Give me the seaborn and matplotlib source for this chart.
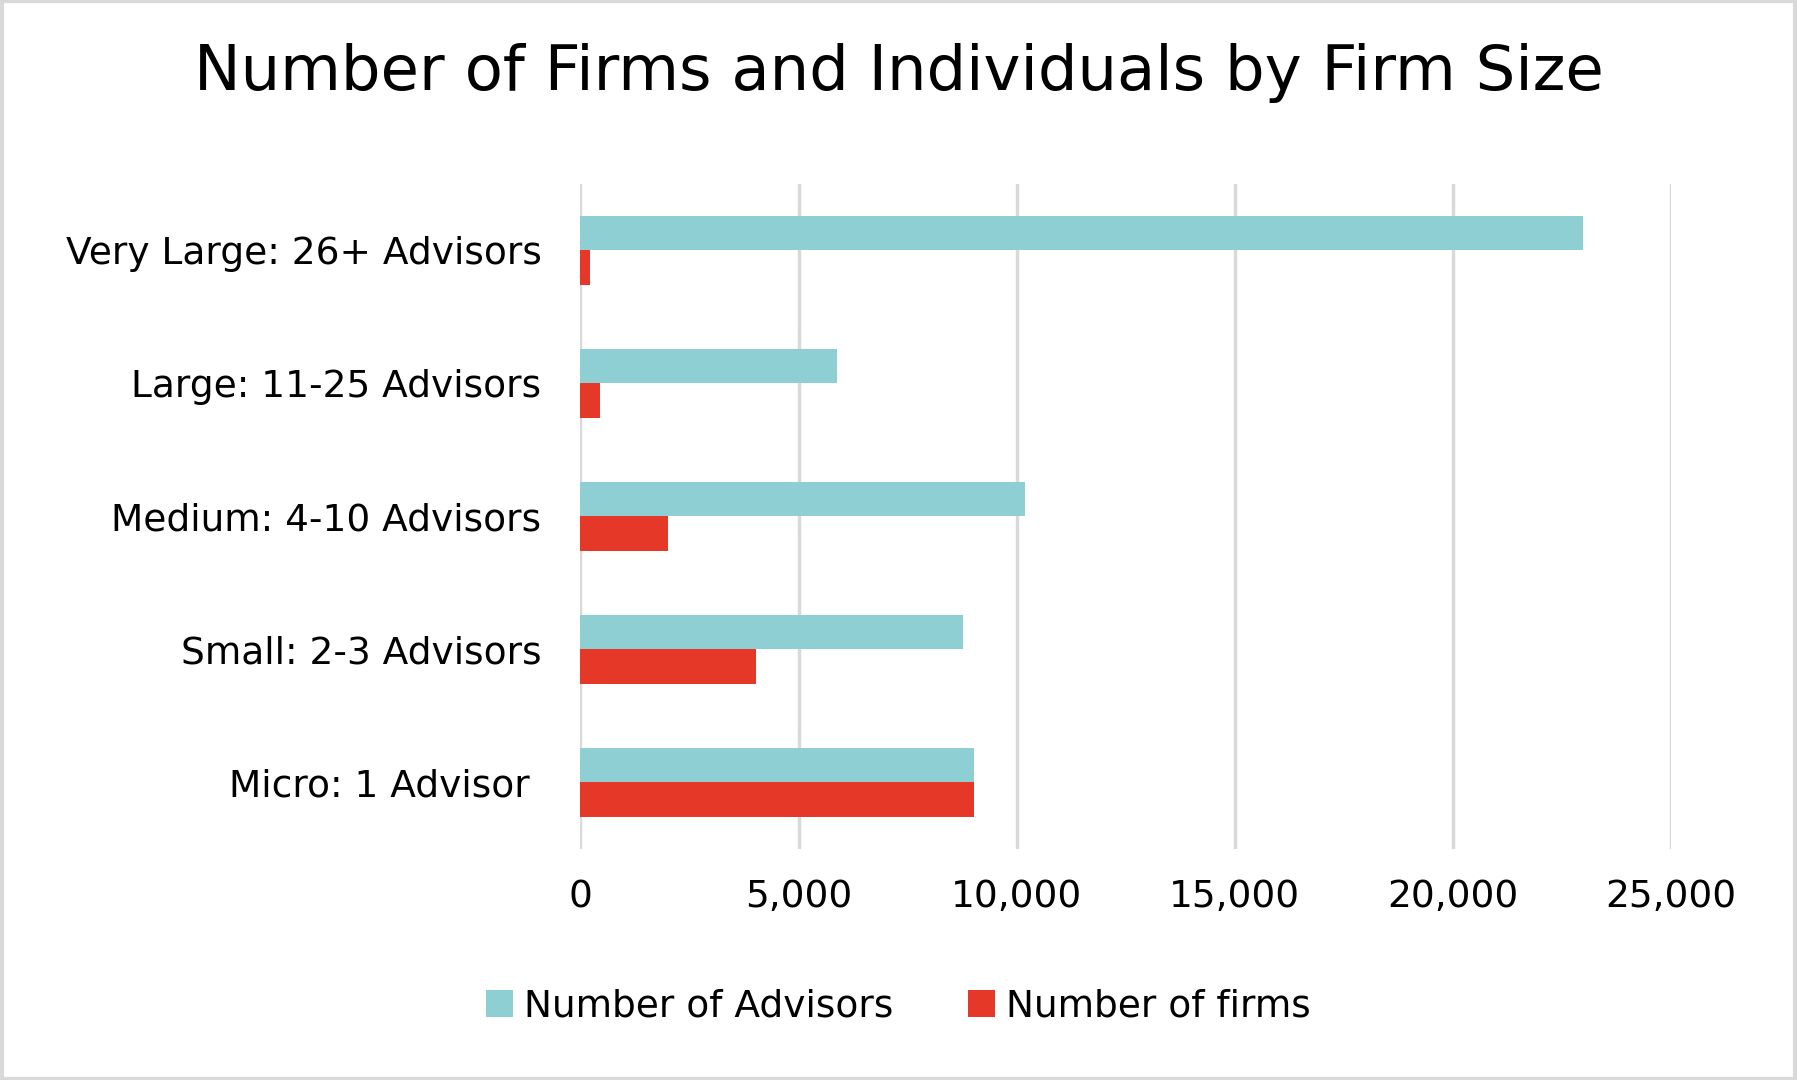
import pandas as pd
import matplotlib
matplotlib.use("Agg")
import matplotlib.pyplot as plt
import seaborn as sns
from matplotlib.patches import Rectangle

# --- Data ---
categories = ["Very Large: 26+ Advisors", "Large: 11-25 Advisors", "Medium: 4-10 Advisors",
              "Small: 2-3 Advisors", "Micro: 1 Advisor "]
advisors = [22980, 5880, 10190, 8770, 9030]
firms = [210, 450, 2000, 4020, 9030]
series = ["Number of Advisors", "Number of firms"]
colors = ["#8ecfd4", "#e63828"]

df = pd.DataFrame({
    "category": categories * 2,
    "value": advisors + firms,
    "series": [series[0]] * 5 + [series[1]] * 5,
})

sns.set_theme(style="white")
plt.rcParams["font.family"] = ["DejaVu Sans"]
plt.rcParams["text.color"] = "black"
plt.rcParams["xtick.color"] = "black"
plt.rcParams["ytick.color"] = "black"

fig = plt.figure(figsize=(17.97, 10.8), dpi=100)
ax = fig.add_axes([0.323, 0.214, 0.607, 0.616])

sns.barplot(data=df, y="category", x="value", hue="series", hue_order=series,
            palette=colors, orient="h", width=0.52, saturation=1, linewidth=0, ax=ax)

ax.set_xlim(0, 25000)
ax.set_xticks(range(0, 25001, 5000))
ax.set_xticklabels([f"{v:,}" for v in range(0, 25001, 5000)], fontsize=27)
ax.tick_params(axis="y", labelsize=27, length=0, pad=28)
ax.tick_params(axis="x", length=0, pad=22)
ax.set_xlabel("")
ax.set_ylabel("")
ax.xaxis.grid(True, color="#d9d9d9", linewidth=2.5)
ax.set_axisbelow(True)
for s in ax.spines.values():
    s.set_visible(False)

fig.suptitle("Number of Firms and Individuals by Firm Size", fontsize=45, y=0.96)

ax.legend_.remove()
handles, labels = ax.get_legend_handles_labels()
fig.legend(handles, labels, loc="center", bbox_to_anchor=(0.5, 0.068), ncol=2,
           frameon=False, fontsize=27, handlelength=0.7, handleheight=0.7,
           handletextpad=0.3, columnspacing=2.0)

fig.patches.append(Rectangle((0.001, 0.001), 0.998, 0.998, transform=fig.transFigure,
                             fill=False, edgecolor="#d9d9d9", linewidth=3))

fig.savefig("out.png", dpi=100)
